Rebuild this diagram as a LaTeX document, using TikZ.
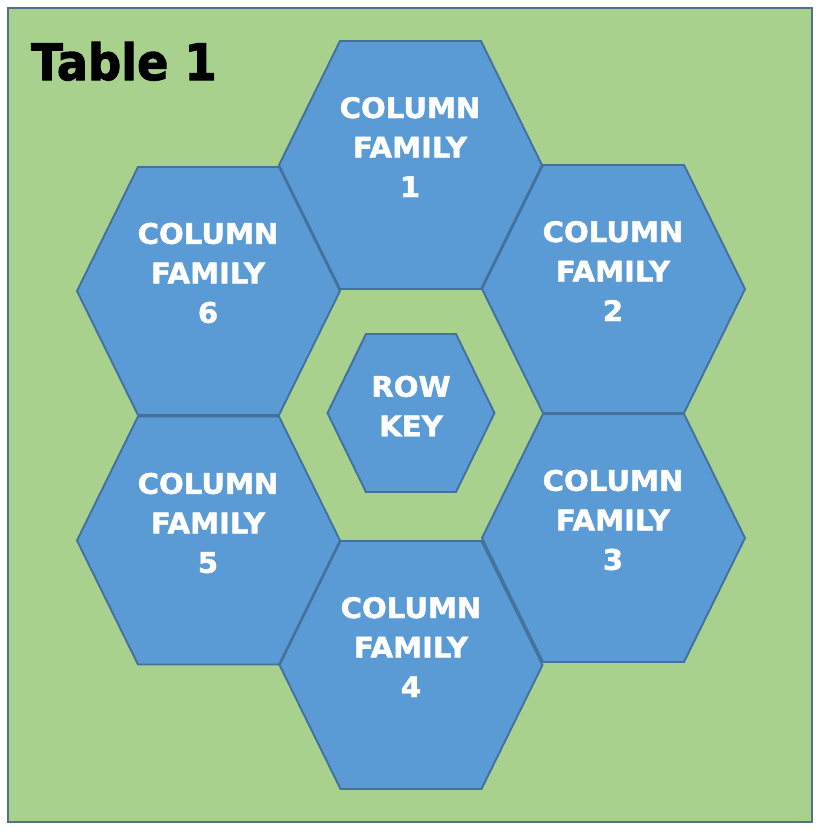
\documentclass[tikz,border=0pt]{standalone}
\usepackage{fontspec}
\setmainfont{DejaVu Sans}
\newfontfamily\hexfont[FakeBold=1.6,FakeStretch=1.03]{DejaVu Sans Bold}
\newfontfamily\titlefont[FakeStretch=0.92,FakeBold=2]{DejaVu Sans Bold}
\definecolor{bggreen}{HTML}{A9D18E}
\definecolor{hexblue}{HTML}{5B9BD5}
\definecolor{hexline}{HTML}{41719C}
\definecolor{frameline}{HTML}{52708A}
\tikzset{
  hexshape/.style={fill=hexblue, draw=hexline, line width=1.9pt, line join=miter},
  lab/.style={text=white, align=center, font=\hexfont\fontsize{28.3}{39.5}\selectfont, inner sep=0pt},
  titlelab/.style={text=black, anchor=base west, font=\titlefont\fontsize{50.3}{56}\selectfont, inner sep=0pt}
}
\newcommand{\bighex}[2]{%
  \draw[hexshape] (#1,#2) ++(-70.5,-124) -- ++(141,0) -- ++(61,124) -- ++(-61,124) -- ++(-141,0) -- ++(-61,-124) -- cycle;}
\begin{document}
\begin{tikzpicture}[x=1pt,y=-1pt]
\useasboundingbox (0,0) rectangle (820,831);
\fill[white] (0,0) rectangle (820,831);
\draw[fill=bggreen, draw=frameline, line width=2pt] (8,8) rectangle (811.5,822);
\node[titlelab] (title) at (31,80) {Table 1};
% hexagons
\bighex{410.5}{165}
\bighex{613.5}{289}
\bighex{613.5}{538}
\bighex{411}{665}
\bighex{208.5}{540.5}
\bighex{208.5}{291}
\draw[hexshape] (411,413) ++(-45,-79) -- ++(90,0) -- ++(38.5,79) -- ++(-38.5,79) -- ++(-90,0) -- ++(-38.5,-79) -- cycle;
% labels
\node[lab] (cf1) at (410,147) {COLUMN\\FAMILY\\1};
\node[lab] (cf2) at (613,271) {COLUMN\\FAMILY\\2};
\node[lab] (cf3) at (613,520) {COLUMN\\FAMILY\\3};
\node[lab] (cf4) at (411,647) {COLUMN\\FAMILY\\4};
\node[lab] (cf5) at (208,523) {COLUMN\\FAMILY\\5};
\node[lab] (cf6) at (208,273) {COLUMN\\FAMILY\\6};
\node[lab] (rk) at (411,406) {ROW\\KEY};
\end{tikzpicture}
\end{document}
